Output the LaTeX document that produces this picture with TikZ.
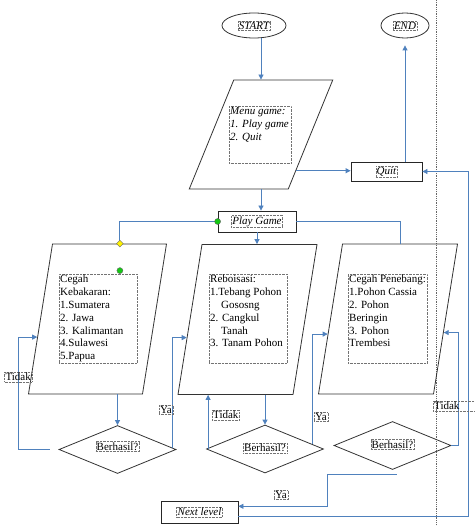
\documentclass[tikz,border=0pt]{standalone}
\usepackage{fontspec}
\setmainfont{Liberation Serif}
\usetikzlibrary{shapes.geometric,arrows.meta,calc}
\definecolor{lineblue}{RGB}{79,129,189}
\definecolor{handlegreen}{RGB}{20,200,20}

\begin{document}
\begin{tikzpicture}[x=1pt, y=-1pt, font=\fontsize{11}{12.8}\selectfont,
  flow/.style={draw=lineblue, line width=0.8pt},
  arr/.style={flow, -{Triangle[width=5pt,length=5pt]}},
  term/.style={ellipse, draw=black!80, line width=0.8pt, minimum width=64, minimum height=25, inner sep=0},
  para/.style={rectangle, xslant=0.16, transform shape, draw=black!80, line width=0.8pt,
    minimum width=115, minimum height=150, inner sep=0},
  box/.style={rectangle, draw=black!85, line width=0.8pt, inner sep=0},
  dec/.style={diamond, draw=black!80, line width=0.8pt, minimum width=117, minimum height=48, inner sep=0},
  tbox/.style={draw=black!55, densely dotted, inner sep=1pt},
  handle/.style={circle, fill=handlegreen, draw=black!60, minimum size=6, inner sep=0}]
  \useasboundingbox (0,0) rectangle (474,526);

  % page edge
  \draw[black!60, densely dotted, line width=0.8pt] (436,0) -- (436,526);

  % terminals and menu
  \node[term] (start) at (254,25.5) {};
  \node[tbox, font=\fontsize{11}{12.8}\itshape] at (start) {START};
  \node[term, minimum width=48] (end) at (405,25.5) {};
  \node[tbox, font=\fontsize{11}{12.8}\itshape] at (end) {END};
  \node[para, xslant=0.248, minimum width=99, minimum height=109] (menu) at (261,134.5) {};
  \node[tbox, anchor=north west, font=\fontsize{11}{12.8}\itshape] (menutext) at (229,106)
    {\parbox[t][55pt][t]{60pt}{Menu game:\\1. Play game\\2. Quit}};
  \node[box, minimum width=71, minimum height=19] (quit) at (386.5,171.5) {};
  \node[tbox, font=\fontsize{11}{12.8}\itshape] at (quit) {Quit};
  \node[box, minimum width=78, minimum height=21] (play) at (257,221.5) {};
  \node[tbox, font=\fontsize{11}{12.8}\itshape] at (play) {Play Game};

  % levels
  \node[para, minimum width=114] (p1) at (97.5,319) {};
  \node[para] (p2) at (247.5,319.5) {};
  \node[para] (p3) at (388,319) {};
  \node[tbox, anchor=north west] (t1) at (59,274)
    {\parbox[t][87pt][t]{76pt}{Cegah\\Kebakaran:\\1.Sumatera\\2. Jawa\\3. Kalimantan\\4.Sulawesi\\5.Papua}};
  \node[tbox, anchor=north west] (t2) at (209,274)
    {\parbox[t][87pt][t]{76pt}{Reboisasi:\\1.Tebang Pohon\\\hspace*{11pt}Gososng\\2. Cangkul\\\hspace*{11pt}Tanah\\3. Tanam Pohon}};
  \node[tbox, anchor=north west] (t3) at (348,274)
    {\parbox[t][87pt][t]{77pt}{Cegah Penebang:\\1.Pohon Cassia\\2. Pohon\\Beringin\\3. Pohon\\Trembesi}};

  % decisions
  \node[dec] (d1) at (117.5,449.5) {};
  \node[tbox] at ($(d1)+(0,-3)$) {Berhasil?};
  \node[dec] (d2) at (265,449) {};
  \node[tbox] at ($(d2)+(0,-1)$) {Berhasil?};
  \node[dec] (d3) at (392.5,445.5) {};
  \node[tbox] at ($(d3)+(0,-1)$) {Berhasil?};
  \node[box, minimum width=77, minimum height=22] (next) at (199.5,512) {};
  \node[tbox, font=\fontsize{11}{12.8}\itshape] at (next) {Next level};

  % connection points
  \coordinate (p1top) at ($(p1.north west)!0.59!(p1.north east)$);
  \coordinate (p3top) at ($(p3.north west)!0.5!(p3.north east)$);
  \coordinate (p1in) at ($(p1.north west)!0.62!(p1.south west)$);
  \coordinate (p2in) at ($(p2.north west)!0.62!(p2.south west)$);
  \coordinate (p3in) at ($(p3.north west)!0.6!(p3.south west)$);
  \coordinate (p3out) at ($(p3.north east)!0.59!(p3.south east)$);
  \coordinate (menuout) at ($(menu.north east)!0.83!(menu.south east)$);
  \coordinate (d2tidak) at ($(d2.west)+(2,0)$);
  \coordinate (nextin) at ($(next.north east)!0.25!(next.south east)$);
  \coordinate (nextout) at ($(next.north east)!0.7!(next.south east)$);

  % connectors
  \draw[arr] (start.south -| menu.center) -- (menu.center |- menu.north);
  \draw[arr] (menu.center |- menu.south) -- (menu.center |- play.north);
  \draw[arr] (menuout) -- (menuout -| quit.west);
  \draw[arr, shorten >=7pt] (end.center |- quit.north) -- (end.south);
  \draw[flow] (play.west) -| (p1top);
  \draw[arr] (play.south) -- (play.south |- p2.north);
  \draw[flow] (play.east) -| (p3top);
  \draw[arr] (d1.north |- p1.south) -- (d1.north);
  \draw[arr, shorten <=9pt] (d1.west) -- ++(-40,0) |- (p1in);
  \draw[arr] ($(d1.north east)!0.85!(d1.east)$) |- (p2in);
  \draw[arr] (d2.north |- p2.south) -- (d2.north);
  \draw[arr] (d2tidak) -- (d2tidak |- p2.south);
  \draw[arr] ($(d2.north east)!0.62!(d2.east)$) |- (p3in);
  \draw[arr] (d3.east) -- ++(7,0) |- (p3out);
  \draw[arr] ($(d3.south)+(4,4)$) -- ++(-69,0) |- (nextin);
  \draw[arr] (nextout) -- ++(230,0) |- (quit.east);

  % connector labels
  \node[tbox, anchor=east] (tidak1) at (32,377) {Tidak};
  \node[tbox] (ya1) at (166,410) {Ya};
  \node[tbox, anchor=west] (tidak2) at (212,415) {Tidak};
  \node[tbox] (ya2) at (321,417) {Ya};
  \node[tbox, anchor=west, text width=42] (tidak3) at (433,406) {Tidak};
  \node[tbox] (ya3) at (281,495) {Ya};

  % selection handles
  \node[handle] at (play.west) {};
  \node[diamond, fill=yellow, draw=black!60, minimum size=7, inner sep=0] at (p1top) {};
  \node[handle] at ($(p1top)+(0,27)$) {};
\end{tikzpicture}
\end{document}
